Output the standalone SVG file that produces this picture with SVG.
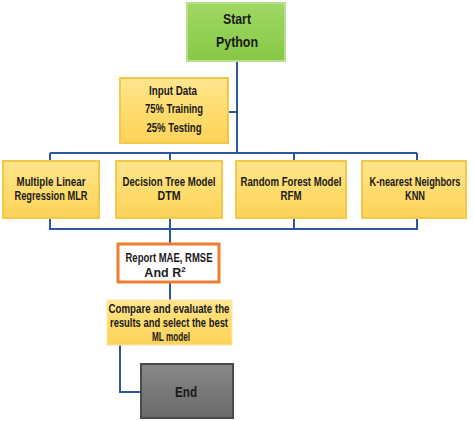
<svg xmlns="http://www.w3.org/2000/svg" width="474" height="421" viewBox="0 0 474 421">
<defs>
<linearGradient id="gY" x1="0" y1="0" x2="0" y2="1"><stop offset="0" stop-color="#ffe58f"/><stop offset="0.5" stop-color="#ffdc6e"/><stop offset="1" stop-color="#fbd35a"/></linearGradient>
<linearGradient id="gG" x1="0" y1="0" x2="0" y2="1"><stop offset="0" stop-color="#a0d865"/><stop offset="1" stop-color="#86c945"/></linearGradient>
<linearGradient id="gK" x1="0" y1="0" x2="0" y2="1"><stop offset="0" stop-color="#888888"/><stop offset="1" stop-color="#6a6a6a"/></linearGradient>
</defs>
<style>
.t{font-family:"Liberation Sans",Arial,sans-serif;font-weight:bold;font-size:12.5px;fill:#1a1a1a;text-anchor:middle}
.big{font-size:15px}
.y{fill:url(#gY);stroke:#f2c84b;stroke-width:2}
.c{fill:none;stroke:#2f56a3;stroke-width:2}
</style>
<g id="connectors">
<path class="c" d="M237 61V153M228 112H237M50 153H417M50 153V161M170 153V161M294 153V161M417 153V161"/>
<path class="c" d="M50 218V229H417V218M170 218V243M294 218V229M170 283V300M120 345V392H140"/>
</g>
<g id="start">
<rect x="187" y="3" width="98" height="58" fill="url(#gG)" stroke="#b6e08a" stroke-width="2"/>
<text class="t big" x="237" y="24" textLength="28" lengthAdjust="spacingAndGlyphs">Start</text>
<text class="t big" x="237" y="47" textLength="42" lengthAdjust="spacingAndGlyphs">Python</text>
</g>
<g id="input">
<rect class="y" x="120" y="78" width="108" height="65"/>
<text class="t" x="173" y="95" textLength="48" lengthAdjust="spacingAndGlyphs">Input Data</text>
<text class="t" x="174" y="113" textLength="58" lengthAdjust="spacingAndGlyphs">75% Training</text>
<text class="t" x="174" y="132" textLength="55" lengthAdjust="spacingAndGlyphs">25% Testing</text>
</g>
<g id="mlr">
<rect class="y" x="3" y="161" width="96" height="57"/>
<text class="t" x="51" y="186" textLength="69" lengthAdjust="spacingAndGlyphs">Multiple Linear</text>
<text class="t" x="51" y="200" textLength="73" lengthAdjust="spacingAndGlyphs">Regression MLR</text>
</g>
<g id="dtm">
<rect class="y" x="116" y="161" width="106" height="57"/>
<text class="t" x="169" y="186" textLength="93" lengthAdjust="spacingAndGlyphs">Decision Tree Model</text>
<text class="t" x="169" y="200" textLength="23" lengthAdjust="spacingAndGlyphs">DTM</text>
</g>
<g id="rfm">
<rect class="y" x="236" y="161" width="110" height="57"/>
<text class="t" x="291" y="186" textLength="101" lengthAdjust="spacingAndGlyphs">Random Forest Model</text>
<text class="t" x="291" y="200" textLength="21" lengthAdjust="spacingAndGlyphs">RFM</text>
</g>
<g id="knn">
<rect class="y" x="362" y="161" width="104" height="57"/>
<text class="t" x="415" y="186" textLength="91" lengthAdjust="spacingAndGlyphs">K-nearest Neighbors</text>
<text class="t" x="415" y="200" textLength="20" lengthAdjust="spacingAndGlyphs">KNN</text>
</g>
<g id="report">
<rect x="118" y="244" width="101" height="38" fill="#ffffff" stroke="#ed7d31" stroke-width="3"/>
<text class="t" x="169" y="262" textLength="87" lengthAdjust="spacingAndGlyphs">Report MAE, RMSE</text>
<text class="t" x="165" y="277">And R<tspan font-size="8" dy="-5">2</tspan></text>
</g>
<g id="compare">
<rect x="107" y="300" width="125" height="45" fill="url(#gY)" stroke="#fbe7a8" stroke-width="1"/>
<text class="t" x="169" y="313" textLength="121" lengthAdjust="spacingAndGlyphs">Compare and evaluate the</text>
<text class="t" x="169" y="327" textLength="118" lengthAdjust="spacingAndGlyphs">results and select the best</text>
<text class="t" x="171" y="341" textLength="38" lengthAdjust="spacingAndGlyphs">ML model</text>
</g>
<g id="end">
<rect x="141" y="364" width="92" height="54" fill="url(#gK)" stroke="#4a4a4a" stroke-width="2"/>
<text class="t big" x="186" y="397" textLength="22" lengthAdjust="spacingAndGlyphs">End</text>
</g>
</svg>
